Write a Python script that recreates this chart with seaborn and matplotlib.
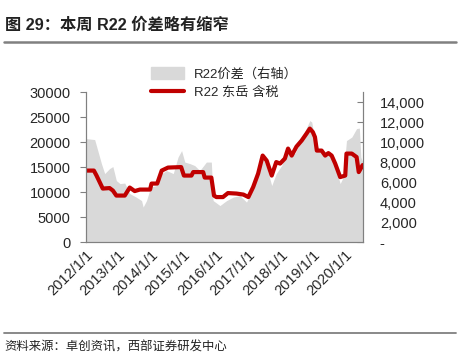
import pandas as pd
import matplotlib
matplotlib.use("Agg")
import matplotlib.pyplot as plt
import matplotlib.ticker as mticker
import matplotlib.lines as mlines
import matplotlib.patches as mpatches
import seaborn as sns

# R22 东岳 含税 (left axis)
price_dates = ["2012-01-01", "2012-04-01", "2012-05-01", "2012-06-05", "2012-07-10", "2012-09-25",
               "2012-11-01", "2012-12-10", "2013-03-15", "2013-05-10", "2013-07-05", "2013-09-01",
               "2013-12-25", "2014-01-10", "2014-03-15", "2014-05-05", "2014-07-15", "2014-12-10",
               "2015-01-10", "2015-04-05", "2015-04-25", "2015-08-15", "2015-09-01", "2015-11-15",
               "2015-12-15", "2016-01-10", "2016-03-25", "2016-05-20", "2016-08-25", "2016-11-10",
               "2017-01-05", "2017-02-28", "2017-04-25", "2017-06-15", "2017-07-30", "2017-09-25",
               "2017-11-15", "2017-12-28", "2018-02-20", "2018-03-28", "2018-05-08", "2018-07-01",
               "2018-08-28", "2018-10-22", "2018-11-28", "2019-01-01", "2019-01-25", "2019-02-15",
               "2019-04-10", "2019-05-20", "2019-06-25", "2019-08-01", "2019-09-10", "2019-11-05",
               "2020-01-01", "2020-01-15", "2020-03-15", "2020-05-08", "2020-06-01", "2020-07-15"]
price_values = [14300, 14300, 13300, 12000, 10700, 10800, 10300, 9300, 9300, 10900, 10200, 10500,
                10500, 11700, 11700, 14300, 14900, 15000, 13300, 13300, 14000, 14000, 12900, 12900,
                9300, 9000, 9000, 9800, 9700, 9500, 9000, 11000, 13700, 17300, 16300, 13300,
                16000, 15700, 16700, 18700, 17300, 19100, 20300, 21700, 22700, 22000, 21000, 18300,
                18300, 17300, 17800, 17300, 15700, 13000, 13300, 17700, 17700, 17000, 14000, 15400]

# R22价差 (right axis)
spread_dates = ["2012-01-01", "2012-04-10", "2012-05-15", "2012-06-25", "2012-08-01", "2012-09-25",
                "2012-11-01", "2012-12-10", "2013-01-20", "2013-03-15", "2013-05-10", "2013-07-20",
                "2013-09-20", "2013-10-08", "2013-11-15", "2014-01-01", "2014-03-05", "2014-05-05",
                "2014-06-28", "2014-09-12", "2014-11-05", "2014-12-15", "2015-01-20", "2015-03-18",
                "2015-05-12", "2015-07-08", "2015-09-20", "2015-11-15", "2015-12-05", "2016-02-20",
                "2016-05-05", "2016-07-20", "2016-10-01", "2016-12-15", "2017-01-22", "2017-02-28",
                "2017-04-25", "2017-06-15", "2017-07-30", "2017-09-25", "2017-11-15", "2018-01-15",
                "2018-03-28", "2018-06-15", "2018-08-28", "2018-11-28", "2018-12-20", "2019-01-25",
                "2019-03-20", "2019-06-25", "2019-08-20", "2019-11-05", "2019-12-10", "2020-01-15",
                "2020-03-15", "2020-05-08", "2020-06-08", "2020-06-25", "2020-07-15"]
spread_values = [10350, 10250, 9150, 7850, 6850, 7350, 7550, 6150, 5850, 5900, 4850, 4500,
                 4150, 3500, 4150, 5500, 5650, 6850, 7150, 6850, 8500, 9150, 8000, 7850,
                 7650, 7150, 8000, 8000, 4150, 3650, 4150, 4500, 4650, 4000, 4650, 5500,
                 7150, 8500, 7500, 5650, 6850, 7650, 9350, 8850, 10350, 12150, 12000, 10150,
                 9150, 9000, 8150, 5850, 6500, 10150, 10500, 11350, 11400, 8500, 8000]

years = list(range(2012, 2021))
year_labels = [f"{y}/1/1" for y in years]

sns.set_style("white")
plt.rcParams["font.family"] = ["Liberation Sans", "Noto Sans CJK SC"]

price = pd.DataFrame({"date": pd.to_datetime(price_dates), "value": price_values})
spread = pd.DataFrame({"date": pd.to_datetime(spread_dates), "value": spread_values})

fig = plt.figure(figsize=(4.74, 3.64), dpi=100)
ax = fig.add_axes([0.181, 0.335, 0.585, 0.412])
ax2 = ax.twinx()

red = "#C00000"
grey = "#D9D9D9"

# grey area on the right axis, kept behind the red line
ax2.fill_between(spread["date"], spread["value"], 0, color=grey, linewidth=0)
ax2.set_ylim(0, 15000)
ax2.set_yticks(range(0, 14001, 2000))
ax2.yaxis.set_major_formatter(mticker.FuncFormatter(lambda v, p: "-" if v == 0 else f"{int(v):,}"))

sns.lineplot(data=price, x="date", y="value", ax=ax, color=red, linewidth=3)
ax.set_zorder(ax2.get_zorder() + 1)
ax.patch.set_visible(False)

ax.set_ylim(0, 30000)
ax.set_yticks(range(0, 30001, 5000))
ax.set_xlim(pd.Timestamp("2012-01-01"), pd.Timestamp("2020-07-20"))
ax.set_xticks([pd.Timestamp(f"{y}-01-01") for y in years])
ax.set_xticklabels(year_labels, rotation=45, ha="right", rotation_mode="anchor")
ax.set_xlabel("")
ax.set_ylabel("")

spine_c = "#808080"
for a in (ax, ax2):
    a.spines["top"].set_visible(False)
    for s in ("left", "right", "bottom"):
        a.spines[s].set_color(spine_c)
        a.spines[s].set_linewidth(0.8)
ax.tick_params(axis="y", direction="out", length=4, color=spine_c, labelsize=10.5, pad=7)
ax.tick_params(axis="x", direction="in", length=4, color=spine_c, labelsize=10.5, pad=4)
ax2.tick_params(axis="y", direction="in", length=4, color=spine_c, labelsize=10.5, pad=12)

handles = [mpatches.Patch(color=grey, label="R22价差（右轴）"),
           mlines.Line2D([], [], color=red, linewidth=3, label="R22 东岳 含税")]
fig.legend(handles=handles, loc="center left", bbox_to_anchor=(0.305, 0.772), frameon=False,
           fontsize=9.5, handlelength=2.5, handleheight=1.0, labelspacing=0.35, borderpad=0,
           handletextpad=0.75)

fig.text(0.010, 0.93, "图 29：本周 R22 价差略有缩窄", fontsize=11.7, fontweight="bold",
         va="center", color="#222222")
fig.add_artist(mlines.Line2D([0.008, 0.962], [0.884, 0.884], color="#808080", linewidth=1.8))
fig.add_artist(mlines.Line2D([0.008, 0.962], [0.085, 0.085], color="#808080", linewidth=1.3))
fig.text(0.010, 0.046, "资料来源：卓创资讯，西部证券研发中心", fontsize=8.9, va="center", color="#222222")

fig.savefig("out.png", dpi=100)
